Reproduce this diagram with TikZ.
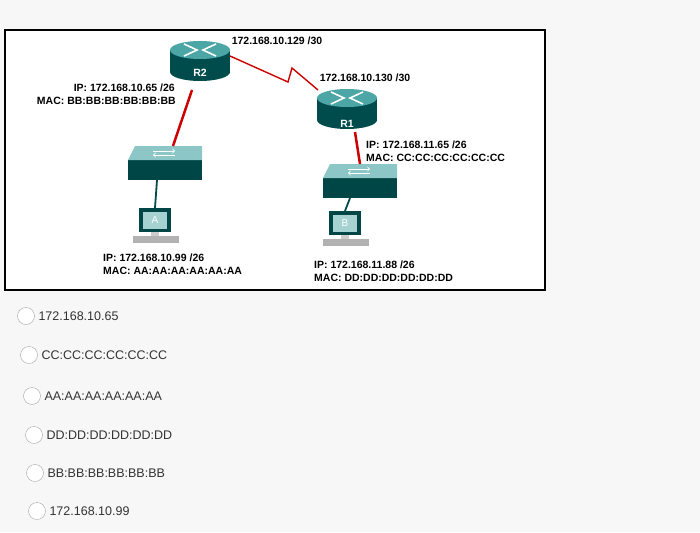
\documentclass[tikz,border=0pt]{standalone}
\usepackage{fontspec}
\setmainfont{Liberation Sans}
\usetikzlibrary{calc}
\begin{document}
\begin{tikzpicture}[x=1pt,y=-1pt,
  lbl/.style={font=\bfseries\fontsize{10.5}{12}\selectfont,inner sep=1pt},
  opt/.style={font=\fontsize{12.5}{14}\selectfont,anchor=west,text=black!80},
  radio/.style={circle,draw=gray!70,fill=white,minimum size=17pt,inner sep=0},
  redlink/.style={draw=red!80!black,line width=2.5pt},
  teallink/.style={draw=teal!60!black,line width=1.8pt}]
\fill[gray!6] (0,0) rectangle (700,532);
\fill[white] (5,30) rectangle (545,290);
\draw[line width=1.4pt] (5,30) rectangle (545,290);
% routers
\foreach \n/\x/\y in {R2/200/58,R1/347/106}{
  \coordinate (\n) at (\x,\y);
  \fill[teal!60!black] (\x-30,\y-8) rectangle (\x+30,\y+14);
  \fill[teal!60!black] (\x,\y+14) ellipse (30 and 9);
  \fill[teal!70] (\x,\y-8) ellipse (30 and 9);
  \draw[white,line width=1.6pt] (\x-16,\y-14)--(\x-3,\y-8)--(\x-16,\y-2) (\x+16,\y-14)--(\x+3,\y-8)--(\x+16,\y-2);
}
\node[text=white,font=\bfseries\fontsize{10.5}{12}\selectfont] (r2l) at (200,73) {R2};
\node[text=white,font=\bfseries\fontsize{10.5}{12}\selectfont] (r1l) at (347,124) {R1};
% switches
\foreach \n/\x/\y in {S1/165/160,S2/360/178}{
  \coordinate (\n) at (\x,\y);
  \fill[teal!55!black] (\x-37,\y) rectangle (\x+37,\y+20);
  \fill[teal!45] (\x-30,\y-14)--(\x+37,\y-14)--(\x+37,\y)--(\x-37,\y)--cycle;
  \draw[white,->,line width=0.9pt] (\x-12,\y-9)--(\x+10,\y-9);
  \draw[white,->,line width=0.9pt] (\x+10,\y-5)--(\x-12,\y-5);
}
% PCs
\foreach \n/\x/\y/\t in {PA/155/222/A,PB/345/225/B}{
  \coordinate (\n) at (\x,\y);
  \fill[teal!55!black] (\x-16,\y-14) rectangle (\x+16,\y+10);
  \fill[teal!35] (\x-12,\y-10) rectangle (\x+12,\y+7);
  \node[white,font=\fontsize{10}{12}\selectfont] at (\x,\y-2) {\t};
  \fill[gray!60] (\x-22,\y+14) rectangle (\x+24,\y+21);
  \fill[gray!40] (\x-4,\y+10) rectangle (\x+4,\y+14);
}
% links
\draw[redlink] ($(R2)+(-8,32)$) -- ($(S1)+(8,-14)$);
\draw[redlink] ($(R1)+(8,26)$) -- ($(S2)+(0,-14)$);
\draw[teallink] ($(S1)+(-8,20)$) -- ($(PA)+(0,-14)$);
\draw[teallink] ($(S2)+(-10,20)$) -- ($(PB)+(0,-14)$);
\draw[red!80!black,line width=1.4pt] (230,56) -- (288,82) -- (292,68) -- (318,90);
% labels
\node[lbl] (l1) at (277,41) {172.168.10.129 /30};
\node[lbl] (l2) at (365,78) {172.168.10.130 /30};
\node[lbl,anchor=east] (l3) at (176,88) {IP: 172.168.10.65 /26};
\node[lbl,anchor=east] (l4) at (177,101) {MAC: BB:BB:BB:BB:BB:BB};
\node[lbl,anchor=west] (l5) at (365,145) {IP: 172.168.11.65 /26};
\node[lbl,anchor=west] (l6) at (365,158) {MAC: CC:CC:CC:CC:CC:CC};
\node[lbl,anchor=west] (l7) at (102,258) {IP: 172.168.10.99 /26};
\node[lbl,anchor=west] (l8) at (102,271) {MAC: AA:AA:AA:AA:AA:AA};
\node[lbl,anchor=west] (l9) at (313,265) {IP: 172.168.11.88 /26};
\node[lbl,anchor=west] (l10) at (313,278) {MAC: DD:DD:DD:DD:DD:DD};
% options
\foreach \i/\x/\y/\t in {1/26/316/172.168.10.65,2/29/355/CC:CC:CC:CC:CC:CC,3/32/396/AA:AA:AA:AA:AA:AA,4/34/435/DD:DD:DD:DD:DD:DD,5/35/473/BB:BB:BB:BB:BB:BB,6/37/511/172.168.10.99}{
  \node[radio] (c\i) at (\x,\y) {};
  \node[opt] (o\i) at (\x+9,\y) {\t};
}
\end{tikzpicture}
\end{document}
